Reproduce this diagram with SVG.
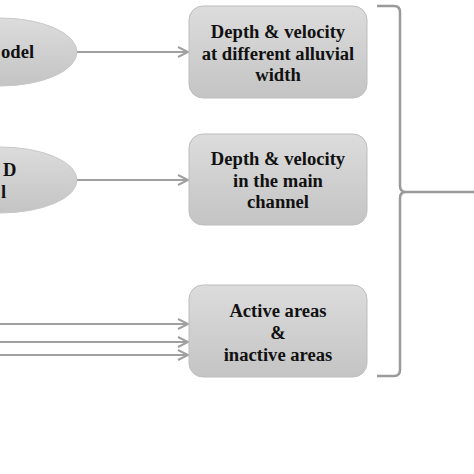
<svg xmlns="http://www.w3.org/2000/svg" width="474" height="474" viewBox="0 0 474 474">
<defs>
<linearGradient id="g" x1="0" y1="0" x2="0" y2="1">
<stop offset="0" stop-color="#dcdcdc"/>
<stop offset="1" stop-color="#c4c4c4"/>
</linearGradient>
<marker id="ah" markerWidth="14" markerHeight="14" refX="11" refY="6" orient="auto" markerUnits="userSpaceOnUse">
<path d="M1,1 L11,6 L1,11" fill="none" stroke="#a0a0a0" stroke-width="2"/>
</marker>
<style>
.box{fill:url(#g);stroke:#bdbdbd;stroke-width:1}
.ell{fill:url(#g);stroke:#c8c8c8;stroke-width:1}
.t{font-family:"Liberation Serif","Times New Roman",serif;font-weight:bold;font-size:18.6px;fill:#111;text-anchor:middle}
.c{fill:none;stroke:#a0a0a0;stroke-width:2;marker-end:url(#ah)}
</style>
</defs>
<rect width="474" height="474" fill="#fff"/>
<g id="ellipse1">
<ellipse class="ell" cx="0" cy="52" rx="77" ry="34"/>
<text class="t" x="1" y="58" style="text-anchor:start">odel</text>
</g>
<g id="ellipse2">
<ellipse class="ell" cx="0" cy="180" rx="77" ry="33"/>
<text class="t" x="3" y="176" style="text-anchor:start">D</text>
<text class="t" x="1" y="198" style="text-anchor:start">l</text>
</g>
<g id="connectors">
<line class="c" x1="77" y1="52" x2="188" y2="52"/>
<line class="c" x1="77" y1="180" x2="188" y2="180"/>
<line class="c" x1="0" y1="324" x2="188" y2="324"/>
<line class="c" x1="0" y1="342" x2="188" y2="342"/>
<line class="c" x1="0" y1="355" x2="188" y2="355"/>
<path d="M377,6 L394,6 Q400,6 400,12 L400,186 Q400,192 406,192 L474,192 M406,192 Q400,192 400,198 L400,370 Q400,376 394,376 L377,376" fill="none" stroke="#9a9a9a" stroke-width="2.5"/>
</g>
<g id="box1">
<rect class="box" x="189" y="6" width="178" height="92" rx="14"/>
<text class="t" x="278" y="38">Depth &amp; velocity</text>
<text class="t" x="278" y="59.5">at different alluvial</text>
<text class="t" x="278" y="81">width</text>
</g>
<g id="box2">
<rect class="box" x="189" y="134" width="178" height="91" rx="14"/>
<text class="t" x="278" y="165">Depth &amp; velocity</text>
<text class="t" x="278" y="187">in the main</text>
<text class="t" x="278" y="208">channel</text>
</g>
<g id="box3">
<rect class="box" x="189" y="285" width="178" height="92" rx="14"/>
<text class="t" x="278" y="317">Active areas</text>
<text class="t" x="278" y="339">&amp;</text>
<text class="t" x="278" y="361">inactive areas</text>
</g>
</svg>
